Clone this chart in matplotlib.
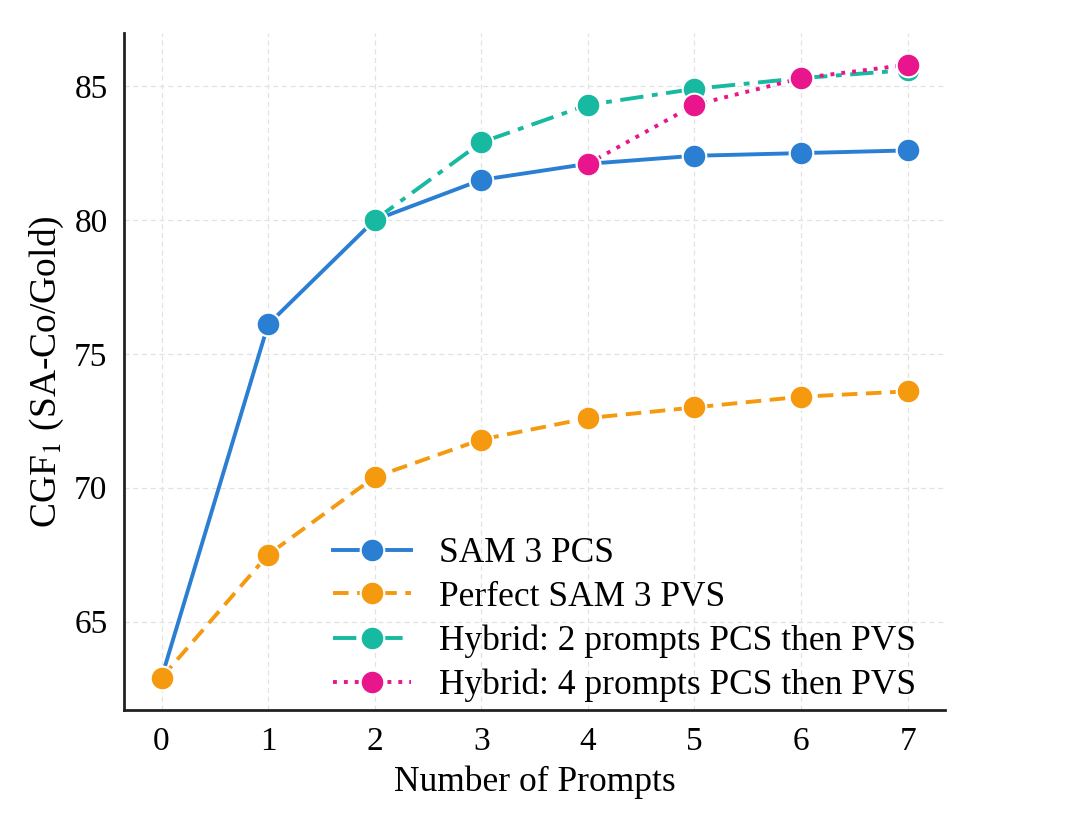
import matplotlib
matplotlib.use("Agg")
import matplotlib.pyplot as plt

prompts = [0, 1, 2, 3, 4, 5, 6, 7]
sam3_pcs = [62.9, 76.1, 80.0, 81.5, 82.1, 82.4, 82.5, 82.6]
perfect_pvs = [62.9, 67.5, 70.4, 71.8, 72.6, 73.0, 73.4, 73.6]
hybrid2_x = [2, 3, 4, 5, 6, 7]
hybrid2 = [80.0, 82.9, 84.3, 84.9, 85.3, 85.6]
hybrid4_x = [4, 5, 6, 7]
hybrid4 = [82.1, 84.3, 85.3, 85.8]
yticks = [65, 70, 75, 80, 85]

plt.rcParams['font.family'] = ['Liberation Serif', 'DejaVu Serif']
plt.rcParams['mathtext.fontset'] = 'stix'

fig = plt.figure(figsize=(10.8, 8.16), dpi=100)
ax = fig.add_axes([0.115, 0.13, 0.76, 0.83])

blue = '#2b7fd2'
orange = '#f5990f'
teal = '#17b9a0'
pink = '#e8158c'

mk = dict(marker='o', markersize=17, markeredgecolor='white', markeredgewidth=1.5)
ax.plot(prompts, sam3_pcs, color=blue, lw=2.8, ls='-', label='SAM 3 PCS', zorder=3, **mk)
ax.plot(prompts, perfect_pvs, color=orange, lw=2.8, ls=(0, (4, 2.2)), label='Perfect SAM 3 PVS', zorder=3, **mk)
ax.plot(hybrid2_x, hybrid2, color=teal, lw=2.8, ls=(0, (6, 2.2, 1.5, 2.2)), label='Hybrid: 2 prompts PCS then PVS', zorder=4, **mk)
ax.plot(hybrid4_x, hybrid4, color=pink, lw=2.8, ls=(0, (1, 1.8)), label='Hybrid: 4 prompts PCS then PVS', zorder=5, **mk)

ax.set_xlim(-0.35, 7.35)
ax.set_ylim(61.7, 87.0)
ax.set_xticks(prompts)
ax.set_yticks(yticks)
ax.tick_params(labelsize=24, length=0, pad=12)
ax.grid(True, ls=(0, (4, 3)), color='#e2e2e2', lw=0.9)
ax.set_axisbelow(True)
for s in ['top', 'right']:
    ax.spines[s].set_visible(False)
for s in ['left', 'bottom']:
    ax.spines[s].set_linewidth(2.0)
    ax.spines[s].set_color('#222222')

ax.set_xlabel('Number of Prompts', fontsize=25.5, labelpad=6)
ax.set_ylabel(r'CGF$_1$ (SA-Co/Gold)', fontsize=27, labelpad=6)

leg = ax.legend(loc='lower right', fontsize=25.5, frameon=False, handlelength=2.2,
                borderaxespad=0.3, labelspacing=0.3, handletextpad=0.8,
                bbox_to_anchor=(0.995, -0.025))

fig.savefig('out.png', dpi=100)
